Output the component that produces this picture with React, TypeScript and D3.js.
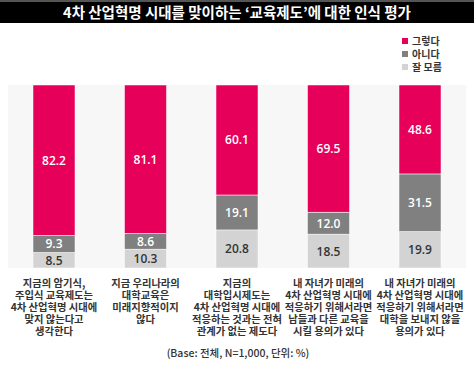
import React from "react";
import * as d3 from "d3";

const categories = ["q1", "q2", "q3", "q4", "q5"];
const categoryLines = [
  ["지금의 암기식,", "주입식 교육제도는", "4차 산업혁명 시대에", "맞지 않는다고", "생각한다"],
  ["지금 우리나라의", "대학교육은", "미래지향적이지", "않다"],
  ["지금의", "대학입시제도는", "4차 산업혁명 시대에", "적응하는 것과는 전혀", "관계가 없는 제도다"],
  ["내 자녀가 미래의", "4차 산업혁명 시대에", "적응하기 위해서라면", "남들과 다른 교육을", "시킬 용의가 있다"],
  ["내 자녀가 미래의", "4차 산업혁명 시대에", "적응하기 위해서라면", "대학을 보내지 않을", "용의가 있다"],
];
const yes = [82.2, 81.1, 60.1, 69.5, 48.6];
const no = [9.3, 8.6, 19.1, 12.0, 31.5];
const dunno = [8.5, 10.3, 20.8, 18.5, 19.9];
const seriesNames = ["그렇다", "아니다", "잘 모름"];

const title = "4차 산업혁명 시대를 맞이하는 ‘교육제도’에 대한 인식 평가";
const footnote = "(Base: 전체, N=1,000, 단위: %)";

const colors: Record<string, string> = {
  "그렇다": "#e6005a",
  "아니다": "#808080",
  "잘 모름": "#d3d3d3",
};
const labelColors: Record<string, string> = {
  "그렇다": "#ffffff",
  "아니다": "#ffffff",
  "잘 모름": "#333333",
};

const W = 474;
const H = 366;
const KR = "'Noto Sans CJK KR', 'Noto Sans', sans-serif";

export default function App() {
  const rows = categories.map((c, i) => ({
    cat: c,
    "잘 모름": dunno[i],
    "아니다": no[i],
    "그렇다": yes[i],
  }));
  const stack = d3.stack<any>().keys(["잘 모름", "아니다", "그렇다"]);
  const layers = stack(rows);

  const x = d3.scalePoint<string>().domain(categories).range([54, 420]);
  const y = d3.scaleLinear().domain([0, 100]).range([268, 85]);
  const barW = 42;

  return (
    <svg
      width={W}
      height={H}
      style={{ position: "absolute", left: 0, top: 0, background: "#fff" }}
    >
      <rect x={0} y={0} width={W} height={2} fill="#555" />
      <rect x={0} y={2} width={W} height={21} fill="#000" />
      <text
        x={W / 2}
        y={17.5}
        textAnchor="middle"
        fill="#fff"
        fontFamily={KR}
        fontWeight={700}
        fontSize={14.5}
      >
        {title}
      </text>

      {seriesNames.map((s, i) => (
        <g key={s} transform={`translate(402,${41 + i * 13})`}>
          <rect x={0} y={-3} width={6} height={6} fill={colors[s]} />
          <text x={10} y={4} fontFamily={KR} fontWeight={700} fontSize={10} fill="#333">
            {s}
          </text>
        </g>
      ))}

      <rect x={8} y={y(100)} width={458} height={y(0) - y(100)} fill="#f7f7f7" />

      {layers.map((layer) => (
        <g key={layer.key}>
          {layer.map((d, i) => {
            const cx = x(categories[i]) as number;
            const y0 = y(d[0]);
            const y1 = y(d[1]);
            const v = d[1] - d[0];
            return (
              <g key={i}>
                <rect
                  x={cx - barW / 2}
                  y={y1}
                  width={barW}
                  height={y0 - y1}
                  fill={colors[layer.key]}
                  stroke="#fff"
                  strokeWidth={0.5}
                />
                <text
                  x={cx}
                  y={(y0 + y1) / 2 + 4.5}
                  textAnchor="middle"
                  fontFamily="'Open Sans', sans-serif"
                  fontWeight={600}
                  fontSize={12}
                  fill={labelColors[layer.key]}
                >
                  {v.toFixed(1)}
                </text>
              </g>
            );
          })}
        </g>
      ))}

      {categoryLines.map((lines, i) => (
        <text
          key={i}
          textAnchor="middle"
          fontFamily={KR}
          fontWeight={700}
          fontSize={10.3}
          fill="#333"
        >
          {lines.map((l, j) => (
            <tspan key={j} x={x(categories[i]) as number} y={286.5 + j * 12}>
              {l}
            </tspan>
          ))}
        </text>
      ))}

      <text
        x={238}
        y={357}
        textAnchor="middle"
        fontFamily={KR}
        fontWeight={500}
        fontSize={10.5}
        fill="#333"
      >
        {footnote}
      </text>
    </svg>
  );
}
